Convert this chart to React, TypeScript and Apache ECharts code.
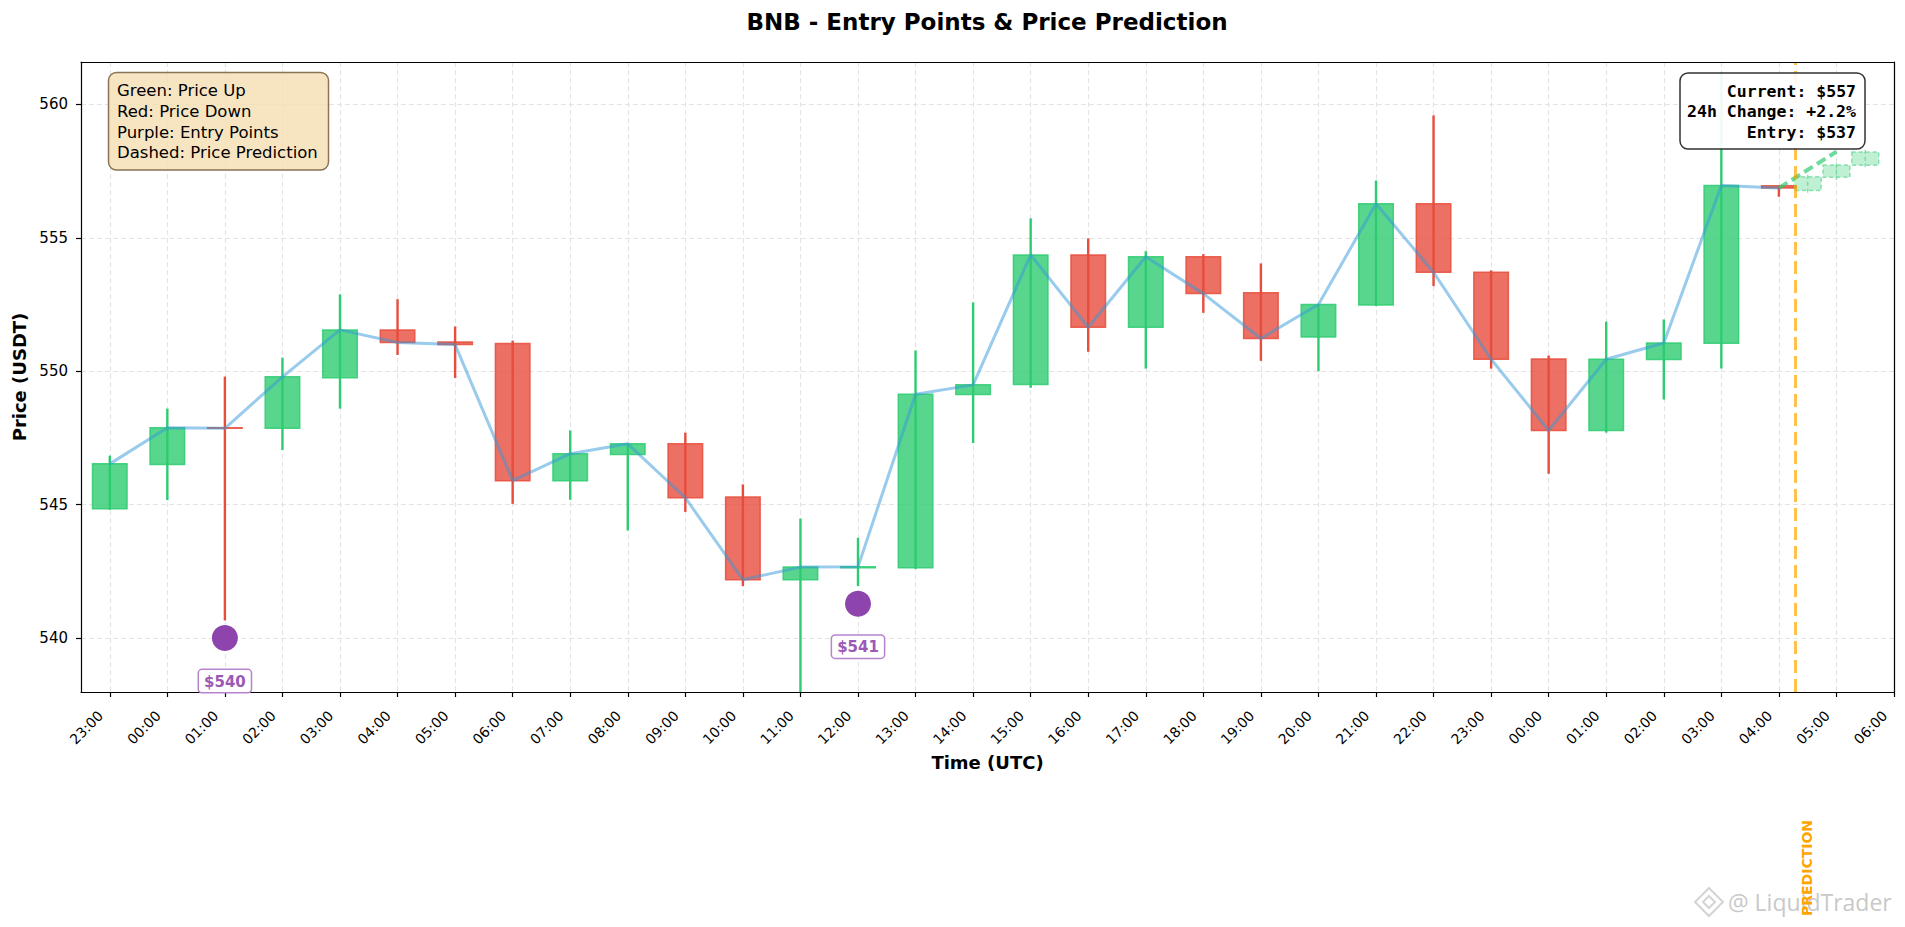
import { useEffect, useRef } from "react"
import * as echarts from "echarts"

// hour labels on the x axis, one per slot (index = slot)
const timeLabels = [
  "23:00", "00:00", "01:00", "02:00", "03:00", "04:00", "05:00", "06:00",
  "07:00", "08:00", "09:00", "10:00", "11:00", "12:00", "13:00", "14:00",
  "15:00", "16:00", "17:00", "18:00", "19:00", "20:00", "21:00", "22:00",
  "23:00", "00:00", "01:00", "02:00", "03:00", "04:00", "05:00", "06:00",
]
const priceTicks = [540, 545, 550, 555, 560]

// hourly candles, slot 0..29
const opens = [
  544.85, 546.51, 547.88, 547.86, 549.76, 551.55, 551.1, 551.04, 545.9, 546.88,
  547.28, 545.29, 542.19, 542.64, 542.64, 549.13, 549.5, 554.36, 551.65, 554.29,
  552.94, 551.28, 552.48, 556.28, 553.71, 550.46, 547.78, 550.44, 551.05, 556.95,
]
const closes = [
  546.53, 547.88, 547.86, 549.79, 551.55, 551.08, 551.0, 545.9, 546.91, 547.28,
  545.26, 542.19, 542.66, 542.67, 549.14, 549.49, 554.36, 551.65, 554.29, 552.91,
  551.23, 552.5, 556.28, 553.71, 550.45, 547.78, 550.45, 551.06, 556.96, 556.87,
]
const lows = [
  544.81, 545.17, 540.66, 547.05, 548.6, 550.61, 549.75, 545.03, 545.18, 544.03,
  544.73, 541.95, 537.8, 541.95, 542.59, 547.31, 549.38, 550.73, 550.1, 552.19,
  550.39, 550.0, 552.44, 553.19, 550.1, 546.16, 547.7, 548.94, 550.1, 556.54,
]
const highs = [
  546.84, 548.6, 549.8, 550.51, 552.88, 552.7, 551.68, 551.15, 547.78, 547.3,
  547.7, 545.76, 544.48, 543.76, 550.78, 552.58, 555.73, 554.98, 554.5, 554.39,
  554.04, 552.5, 557.15, 559.59, 553.78, 550.59, 551.86, 551.94, 561.2, 556.95,
]

// predicted candles (half-hour steps after "now")
const predX = [29.5, 30.0, 30.5]
const predOpen = [556.77, 557.27, 557.72]
const predClose = [557.29, 557.73, 558.22]
const predLow = [556.67, 557.17, 557.65]
const predHigh = [557.36, 557.8, 558.3]
const predLineX = [29, 30]
const predLineY = [556.87, 558.23]
const nowX = 29.29

// entry points
const entryX = [2, 13]
const entryPrice = [540.0, 541.29]

const legendLines = ["Green: Price Up", "Red: Price Down", "Purple: Entry Points", "Dashed: Price Prediction"]
const infoLines = ["Current: $557", "24h Change: +2.2%", "Entry: $537"]

const GREEN = "#2ecc71"
const RED = "#e74c3c"
const FONT = "DejaVu Sans"

function rgba(hex: string, a: number) {
  const n = parseInt(hex.slice(1), 16)
  return `rgba(${(n >> 16) & 255},${(n >> 8) & 255},${n & 255},${a})`
}

function candleRenderer(width: number, pred: boolean) {
  return (_params: any, api: any) => {
    const x = api.value(0)
    const o = api.value(1)
    const c = api.value(2)
    const lo = api.value(3)
    const hi = api.value(4)
    const color = c >= o ? GREEN : RED
    const [xc, yo] = api.coord([x, o])
    const yc = api.coord([x, c])[1]
    const yl = api.coord([x, lo])[1]
    const yh = api.coord([x, hi])[1]
    const w = api.size([width, 0])[0]
    const top = Math.min(yo, yc)
    const h = Math.max(Math.abs(yo - yc), 0.5)
    return {
      type: "group",
      children: [
        {
          type: "line",
          shape: { x1: xc, y1: yh, x2: xc, y2: yl },
          style: pred
            ? { stroke: rgba(color, 0.5), lineWidth: 1.5, lineDash: [4, 3] }
            : { stroke: color, lineWidth: 2.4 },
        },
        {
          type: "rect",
          shape: { x: xc - w / 2, y: top, width: w, height: h },
          style: pred
            ? { fill: rgba(color, 0.3), stroke: rgba(color, 0.5), lineWidth: 1.5, lineDash: [4, 3] }
            : { fill: rgba(color, 0.8), stroke: rgba(color, 0.85), lineWidth: 1.5 },
        },
      ],
    }
  }
}

export default function App() {
  const ref = useRef<HTMLDivElement>(null)

  useEffect(() => {
    document.body.style.margin = "0"
    if (!ref.current) return
    const chart = echarts.init(ref.current, undefined, { renderer: "svg" })

    const xTicks = timeLabels.map((_, i) => i)
    const gridLine = { show: true, lineStyle: { color: "#e4e4e4", width: 1.2, type: [5, 3] as any } }
    const frame = { show: true, onZero: false, lineStyle: { color: "#000", width: 1.2 } }

    const candleData = opens.map((o, i) => [i, o, closes[i], lows[i], highs[i]])
    const predData = predX.map((x, i) => [x, predOpen[i], predClose[i], predLow[i], predHigh[i]])

    const legendTexts = legendLines.map((t, i) => ({
      type: "text",
      z: 101,
      x: 117,
      y: 90.5 + i * 20.8,
      style: { text: t, fill: "#000", fontSize: 16.5, fontFamily: FONT, verticalAlign: "middle" },
    }))
    const infoTexts = infoLines.map((t, i) => ({
      type: "text",
      z: 101,
      x: 1856,
      y: 91 + i * 20.6,
      style: {
        text: t, fill: "#000", fontSize: 16.5, fontWeight: "bold",
        fontFamily: "DejaVu Sans Mono", align: "right", verticalAlign: "middle",
      },
    }))

    const baseGraphic: any[] = [
      {
        type: "rect", z: 100,
        shape: { x: 108.5, y: 72.5, width: 220, height: 97.5, r: 8 },
        style: { fill: "rgba(245,222,179,0.8)", stroke: "#8b7355", lineWidth: 1.5 },
      },
      ...legendTexts,
      {
        type: "rect", z: 100,
        shape: { x: 1680, y: 73, width: 185, height: 76, r: 8 },
        style: { fill: "rgba(255,255,255,0.92)", stroke: "#333", lineWidth: 1.5 },
      },
      ...infoTexts,
      // watermark
      {
        type: "polygon", z: 100,
        shape: { points: [[1709, 888], [1723, 902], [1709, 916], [1695, 902]] },
        style: { fill: "none", stroke: "#d4d4d4", lineWidth: 2 },
      },
      {
        type: "polygon", z: 100,
        shape: { points: [[1709, 896], [1715, 902], [1709, 908], [1703, 902]] },
        style: { fill: "none", stroke: "#d4d4d4", lineWidth: 2 },
      },
      {
        type: "text", z: 100, x: 1728, y: 902,
        style: {
          text: "@ LiquidTrader", fill: "#c9c9c9", fontSize: 23,
          fontFamily: "Open Sans", verticalAlign: "middle",
        },
      },
    ]

    chart.setOption({
      animation: false,
      backgroundColor: "#fff",
      title: {
        text: "BNB - Entry Points & Price Prediction",
        left: 987,
        top: 10,
        padding: 0,
        textAlign: "center",
        textStyle: { fontSize: 23, fontWeight: "bold", fontFamily: FONT, color: "#000" },
      },
      grid: {
        left: 81, right: 11, top: 62, bottom: 235,
        show: false,
        outerBoundsMode: "none",
      },
      xAxis: [
        {
          type: "value",
          min: -0.5,
          max: 31,
          name: "Time (UTC)",
          nameLocation: "middle",
          nameGap: 60,
          nameTextStyle: { fontSize: 18, fontWeight: "bold", fontFamily: FONT, color: "#000" },
          axisLine: frame,
          axisTick: { show: true, length: 5, lineStyle: { color: "#000", width: 1.2 }, customValues: xTicks },
          axisLabel: {
            customValues: xTicks,
            formatter: (v: number) => timeLabels[Math.round(v)] ?? "",
            rotate: 45,
            margin: 12,
            padding: [0, 13, 0, 0],
            fontSize: 14,
            fontFamily: FONT,
            color: "#000",
          },
          splitLine: gridLine,
        },
        {
          // top spine
          type: "value",
          position: "top",
          min: -0.5,
          max: 31,
          z: 5,
          axisLine: frame,
          axisTick: { show: false },
          axisLabel: { show: false },
          splitLine: { show: false },
        },
      ],
      yAxis: [
        {
          type: "value",
          min: 537.98,
          max: 561.59,
          name: "Price (USDT)",
          nameLocation: "middle",
          nameGap: 53,
          nameTextStyle: { fontSize: 18, fontWeight: "bold", fontFamily: FONT, color: "#000" },
          axisLine: frame,
          axisTick: { show: true, length: 5, lineStyle: { color: "#000", width: 1.2 }, customValues: priceTicks },
          axisLabel: {
            customValues: priceTicks,
            margin: 13,
            fontSize: 15,
            fontFamily: FONT,
            color: "#000",
          },
          splitLine: gridLine,
        },
        {
          // right spine
          type: "value",
          position: "right",
          min: 537.98,
          max: 561.59,
          z: 5,
          axisLine: frame,
          axisTick: { show: false },
          axisLabel: { show: false },
          splitLine: { show: false },
        },
      ],
      series: [
        {
          type: "custom",
          name: "Candles",
          renderItem: candleRenderer(0.6, false),
          data: candleData,
          encode: { x: 0, y: [1, 2, 3, 4] },
          clip: true,
          z: 2,
        },
        {
          type: "line",
          name: "Close",
          data: closes.map((c, i) => [i, c]),
          symbol: "none",
          lineStyle: { color: rgba("#3498db", 0.5), width: 3 },
          z: 3,
        },
        {
          type: "custom",
          name: "Prediction",
          renderItem: candleRenderer(0.47, true),
          data: predData,
          encode: { x: 0, y: [1, 2, 3, 4] },
          clip: true,
          z: 3,
        },
        {
          type: "line",
          name: "Prediction line",
          data: predLineX.map((x, i) => [x, predLineY[i]]),
          symbol: "none",
          lineStyle: { color: rgba(GREEN, 0.7), width: 4, type: [10, 5] },
          z: 4,
          markLine: {
            silent: true,
            symbol: "none",
            label: { show: false },
            lineStyle: { color: "rgba(255,165,0,0.7)", width: 3, type: [13, 6] },
            data: [{ xAxis: nowX }],
          },
        },
        {
          type: "scatter",
          name: "Entry",
          data: entryX.map((x, i) => [x, entryPrice[i]]),
          symbolSize: 26,
          itemStyle: { color: "#8e44ad", opacity: 1 },
          label: {
            show: true,
            position: "bottom",
            distance: 19,
            formatter: (p: any) => `$${Math.round(p.value[1])}`,
            color: "#9b59b6",
            fontWeight: "bold",
            fontSize: 15,
            fontFamily: FONT,
            backgroundColor: "#fff",
            borderColor: "#b784cc",
            borderWidth: 1.5,
            borderRadius: 3,
            padding: [4, 5, 3, 5],
          },
          z: 10,
        },
      ],
      graphic: baseGraphic,
    })

    const px = chart.convertToPixel({ xAxisIndex: 0 }, nowX) as number
    chart.setOption({
      graphic: [
        ...baseGraphic,
        {
          type: "text", z: 101, x: px + 11, y: 868, rotation: Math.PI / 2,
          style: {
            text: "PREDICTION", fill: "#ffa500", fontSize: 14, fontWeight: "bold",
            fontFamily: FONT, align: "center", verticalAlign: "middle",
          },
        },
      ],
    })

    return () => chart.dispose()
  }, [])

  return <div ref={ref} style={{ width: 1905, height: 927 }} />
}
